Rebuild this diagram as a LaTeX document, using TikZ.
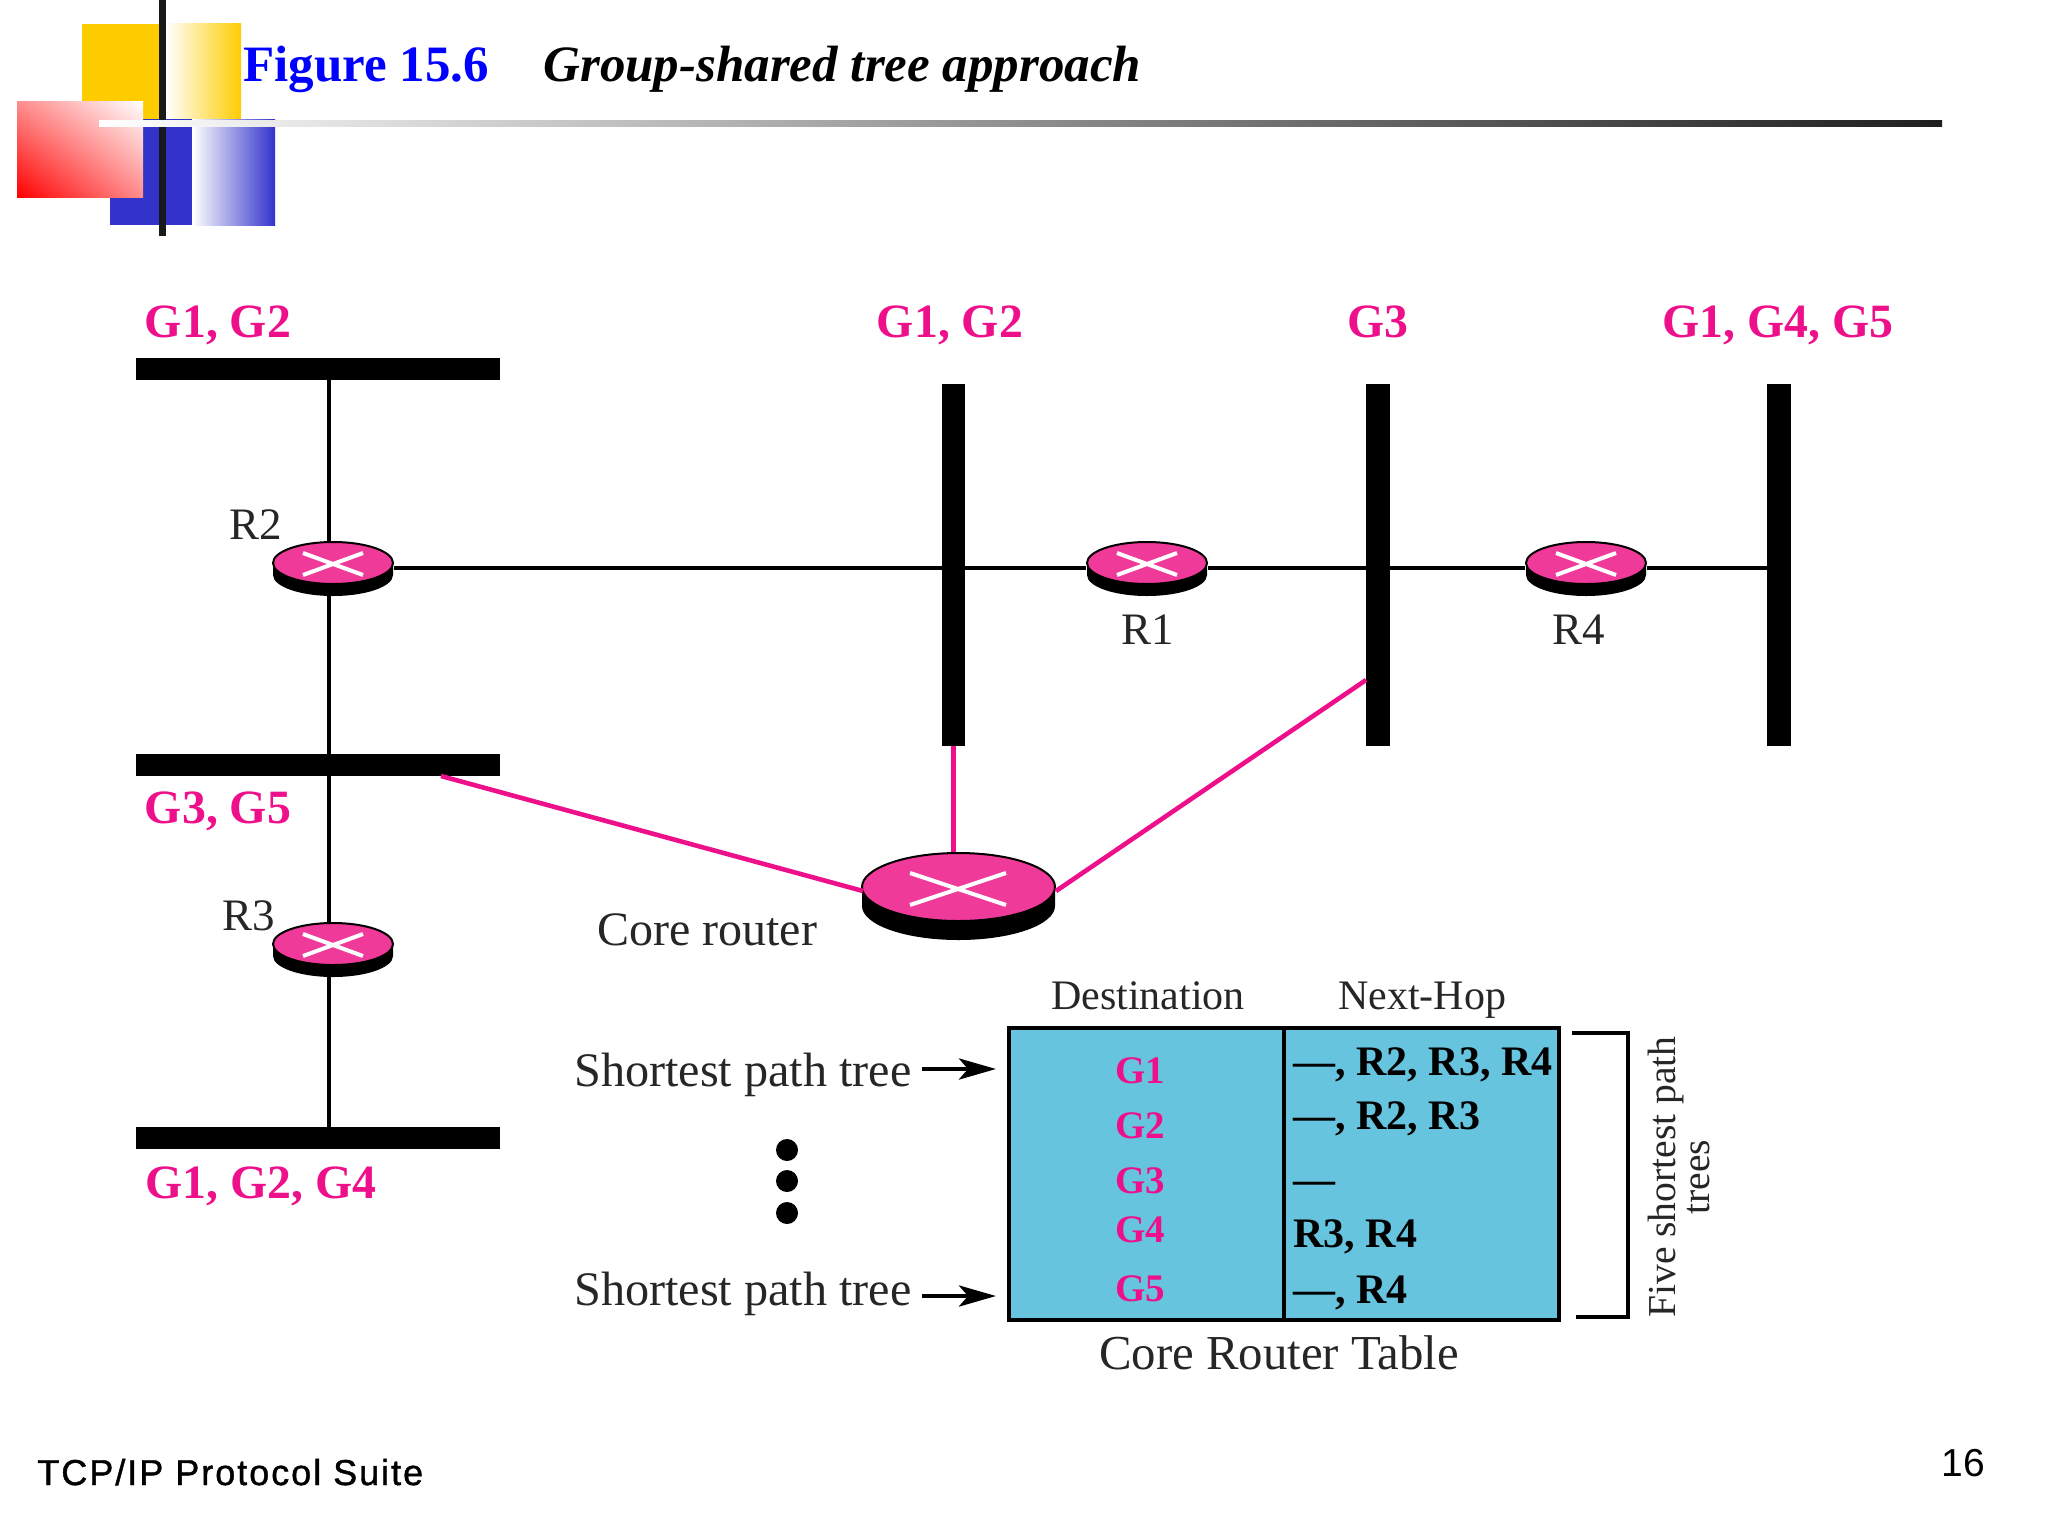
\documentclass[tikz,border=0pt]{standalone}
\usepackage{fontspec}
\setmainfont{Liberation Serif}
\setsansfont{Liberation Sans}
\newfontfamily\footfont[LetterSpace=5.5,FakeBold=1.2]{Liberation Sans}
\usetikzlibrary{shapes.geometric,arrows.meta,shadings}
\definecolor{pinkfill}{HTML}{F03A9A}
\definecolor{pinkline}{HTML}{EE0F8A}
\definecolor{tablefill}{HTML}{66C4DE}
\definecolor{titleblue}{HTML}{0000FF}
\definecolor{logoyellow}{HTML}{FFCC00}
\definecolor{logoblue}{HTML}{3333CC}
\newcommand{\fsz}[1]{\fontsize{#1pt}{#1pt}\selectfont}
\tikzset{
  x=0.5pt,y=-0.5pt,
  hbar/.style={rectangle,fill=black,inner sep=0pt,minimum width=182pt,minimum height=11pt},
  vbar/.style={rectangle,fill=black,inner sep=0pt,minimum width=11.8pt,minimum height=181pt},
  smallrouter/.style={ellipse,fill=pinkfill,draw=black,line width=1pt,inner sep=0pt,minimum width=60pt,minimum height=21pt},
  corerouter/.style={ellipse,fill=pinkfill,draw=black,line width=1pt,inner sep=0pt,minimum width=96.5pt,minimum height=34pt},
  wire/.style={draw=black,line width=2.2pt},
  pinkwire/.style={draw=pinkline,line width=2.3pt},
  group/.style={anchor=base,text=pinkline,font=\bfseries\fsz{23.9}},
  rname/.style={anchor=base,text=black!85,font=\fsz{22.5}},
  plain/.style={anchor=base,text=black!85,font=\fsz{24}},
  tdest/.style={anchor=base,text=pinkline,font=\bfseries\fsz{19.5}},
  thop/.style={anchor=base west,inner sep=0pt,text=black,font=\bfseries\fsz{21}},
  thead/.style={anchor=base,text=black!85,font=\fsz{21}},
  bigdot/.style={circle,fill=black,inner sep=0pt,minimum size=11pt},
  leadarrow/.style={draw=black,line width=2.3pt,-{Stealth[length=18.5pt,width=10.5pt,inset=4.5pt]}},
  vtext/.style={anchor=base,rotate=90,text=black!85,font=\fsz{19.8},inner sep=0pt},
}
\newcommand{\smallshadow}[2]{%
  \fill[black] (#1-60,#2) -- (#1-60,#2+12) arc[start angle=180,end angle=0,x radius=60,y radius=21] -- (#1+60,#2) -- cycle;
}
\newcommand{\crosslines}[4]{%
  \draw[white,line width=2pt] (#1-#3,#2-#4) -- (#1+#3,#2+#4) (#1-#3,#2+#4) -- (#1+#3,#2-#4);
}
\begin{document}
\begin{tikzpicture}
\useasboundingbox (0,0) rectangle (2048,1536);
% logo
\fill[logoyellow] (82,24) rectangle (160,119);
\shade[left color=white,right color=logoyellow] (166,24) rectangle (241,119);
\fill[logoblue] (110,119) rectangle (192,225);
\shade[left color=white,right color=logoblue] (192,119) rectangle (275,225);
\fill[black!90] (159,0) rectangle (166,236);
\shade[lower left=red,upper right=white,upper left=red!45!white,lower right=red!45!white] (17,102) rectangle (143,197);
\shade[left color=white,right color=black!88] (99,120) rectangle (1942,126);
% title
\node[anchor=base west,text=titleblue,font=\bfseries\fsz{25.5},inner sep=0pt] (figno) at (243,82) {Figure 15.6};
\node[anchor=base west,text=black,font=\bfseries\itshape\fsz{25.5},inner sep=0pt] (figtitle) at (543,82) {Group-shared tree approach};
% network helpers
\coordinate (rail) at (329,0);
\coordinate (hrail) at (0,568);
% buses
\node[hbar] (busA) at (318,369) {};
\node[hbar] (busB) at (318,765) {};
\node[hbar] (busC) at (318,1138) {};
\node[vbar] (busD) at (953.5,565) {};
\node[vbar] (busE) at (1378,565) {};
\node[vbar] (busF) at (1779,565) {};
% routers
\smallshadow{333}{563}
\smallshadow{1147}{563}
\smallshadow{1586}{563}
\smallshadow{333}{944}
\node[smallrouter] (R2) at (333,563) {};
\node[smallrouter] (R1) at (1147,563) {};
\node[smallrouter] (R4) at (1586,563) {};
\node[smallrouter] (R3) at (333,944) {};
\crosslines{333}{564}{30}{11}
\crosslines{1147}{564}{30}{11}
\crosslines{1586}{564}{30}{11}
\crosslines{333}{945}{30}{11}
% core router
\fill[black] (862,887) -- (862,906) arc[start angle=180,end angle=0,x radius=96.5,y radius=34] -- (1055,887) -- cycle;
\node[corerouter] (core) at (958.5,887) {};
\crosslines{958}{889}{48}{16}
% black wires
\draw[wire] (busA.south -| rail) -- (R2.north -| rail);
\draw[wire] (R2.south -| rail) -- (busB.north -| rail);
\draw[wire] (busB.south -| rail) -- (R3.north -| rail);
\draw[wire] (R3.south -| rail) -- (busC.north -| rail);
\draw[wire] (R2.east |- hrail) -- (R1.west |- hrail);
\draw[wire] (R1.east |- hrail) -- (R4.west |- hrail);
\draw[wire] (R4.east |- hrail) -- (busF.west |- hrail);
% pink wires
\coordinate (busBtap) at (441,776);
\coordinate (busEtap) at (1366,680);
\coordinate (coreL) at (863,891);
\coordinate (coreR) at (1056,891);
\draw[pinkwire] (busBtap) -- (coreL);
\draw[pinkwire] (busEtap) -- (coreR);
\draw[pinkwire] (busD.south) -- (core.north -| busD.south);
% group labels
\node[group] (l1) at (218,337) {G1, G2};
\node[group] (l2) at (950,337) {G1, G2};
\node[group] (l3) at (1378,337) {G3};
\node[group] (l4) at (1778,337) {G1, G4, G5};
\node[group] (l5) at (218,823) {G3, G5};
\node[group] (l6) at (261,1198) {G1, G2, G4};
% router labels
\node[rname] (tR2) at (256,539) {R2};
\node[rname] (tR1) at (1148,644) {R1};
\node[rname] (tR4) at (1579,644) {R4};
\node[rname] (tR3) at (249,930) {R3};
\node[plain] (tcore) at (707,945) {Core router};
% table
\node[rectangle,draw=black,line width=2pt,fill=tablefill,inner sep=0pt,minimum width=275pt,minimum height=146pt] (tbl) at (1284,1174) {};
\coordinate (divx) at (1284,0);
\draw[draw=black,line width=2pt] (tbl.north -| divx) -- (tbl.south -| divx);
\node[thead] (hd) at (1148,1009) {Destination};
\node[thead] (hn) at (1422,1009) {Next-Hop};
\node[tdest] (d1) at (1140,1083) {G1};
\node[tdest] (d2) at (1140,1138) {G2};
\node[tdest] (d3) at (1140,1193) {G3};
\node[tdest] (d4) at (1140,1242) {G4};
\node[tdest] (d5) at (1140,1301) {G5};
\node[thop] (h1) at (1293,1075) {—, R2, R3, R4};
\node[thop] (h2) at (1293,1129) {—, R2, R3};
\node[thop] (h3) at (1293,1193) {—};
\node[thop] (h4) at (1293,1247) {R3, R4};
\node[thop] (h5) at (1293,1303) {—, R4};
\node[anchor=base,text=black!85,font=\fsz{24.4}] (tcap) at (1279,1369) {Core Router Table};
% shortest path labels and arrows
\node[plain,font=\fsz{24.1},inner sep=0pt] (spt1) at (743,1086) {Shortest path tree};
\node[plain,font=\fsz{24.1},inner sep=0pt] (spt2) at (743,1305) {Shortest path tree};
\coordinate (a1) at (922,1069);
\coordinate (b1) at (996,1069);
\coordinate (a2) at (922,1296);
\coordinate (b2) at (996,1296);
\draw[leadarrow] (a1) -- (b1);
\draw[leadarrow] (a2) -- (b2);
\node[bigdot] (dot1) at (787,1150) {};
\node[bigdot] (dot2) at (787,1181) {};
\node[bigdot] (dot3) at (787,1213) {};
% bracket
\coordinate (bk1) at (1572,1033);
\coordinate (bk2) at (1628,1033);
\coordinate (bk3) at (1628,1317);
\coordinate (bk4) at (1576,1317);
\draw[draw=black,line width=2.2pt] (bk1) -- (bk2) -- (bk3) -- (bk4);
\node[vtext] (five) at (1675,1177) {Five shortest path};
\node[vtext] (trees) at (1709,1177) {trees};
% footer
\node[anchor=base west,inner sep=0pt,text=black,font=\footfont\fsz{18}] (foot) at (37,1485) {TCP/IP Protocol Suite};
\node[anchor=base west,inner sep=0pt,text=black,font=\sffamily\fsz{19.5}] (page) at (1941,1476) {16};
\end{tikzpicture}
\end{document}
